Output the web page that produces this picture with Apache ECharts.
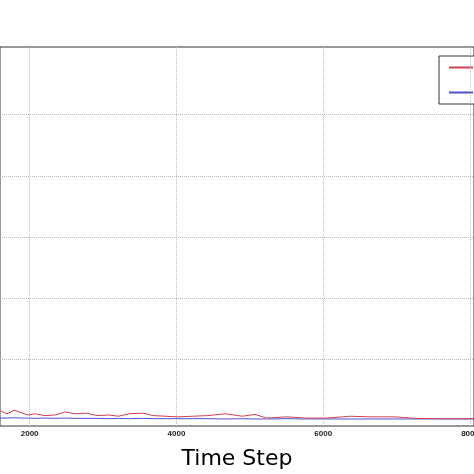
<!DOCTYPE html>
<html><head><meta charset="utf-8">
<script src="https://cdn.jsdelivr.net/npm/echarts@6/dist/echarts.min.js"></script>
<style>html,body{margin:0;padding:0;background:#fff}#c{width:474px;height:474px}</style>
</head><body><div id="c"></div>
<script>
const steps = [1600,1690,1790,1900,1980,2070,2210,2340,2490,2610,2780,2920,3080,3210,3350,3550,3680,4020,4220,4420,4670,4900,5070,5230,5500,5770,6040,6370,6640,6980,7250,7520,8060];
const redVals = [15,10,16,11,8,10,7,8,13,10,11,7,8,6,10,11,7,5,6,7,10,6,9,3,5,3,3,6,5,5,2.5,2,2];
const blueVals = [3,3,3.5,3,3,2.5,3,2.5,3,2.5,2.5,2.5,2,2.5,2,2.5,2,2,2,2,1.5,2,1.5,1.5,2,1.5,1.5,1.5,1.5,1.5,1.5,1.5,1.5];
const xTicks = [2000,4000,6000,8000];
const yGrid = [100,200,300,400,500];
const seriesNames = ['Train','Test'];
const pair = (v) => steps.map((s,i)=>[s,v[i]]);
const gl = {color:'#bbb',type:'dotted',width:1};
const chart = echarts.init(document.getElementById('c'));
chart.setOption({
  animation:false,
  grid:{left:0,right:0,top:47,bottom:48,show:true,borderColor:'#333',borderWidth:1,outerBoundsMode:'none',containLabel:false},
  legend:{orient:'vertical',left:439,top:56,itemWidth:24,itemHeight:2,itemGap:14,padding:[6,8,6,10],
    borderColor:'#333',borderWidth:1,backgroundColor:'#fff',textStyle:{fontSize:11,color:'#000'},icon:'rect',
    data:seriesNames},
  xAxis:{type:'value',min:1596,max:8054,
    axisLine:{show:false},
    axisLabel:{fontSize:8,color:'#222',customValues:xTicks,formatter:v=>String(v),margin:4,fontWeight:'bold'},
    axisTick:{show:false,customValues:xTicks},
    splitLine:{show:false},
    name:'Time Step',nameLocation:'middle',nameGap:22,nameTextStyle:{fontSize:22,color:'#000',fontFamily:'DejaVu Sans'}},
  yAxis:{type:'value',min:-10,max:611,
    axisLine:{show:false},axisTick:{show:false},axisLabel:{show:false},splitLine:{show:false}},
  series:[
    {name:seriesNames[0],type:'line',data:pair(redVals),symbol:'none',lineStyle:{color:'#d04050',width:1},itemStyle:{color:'#d04050'},z:3,
     markLine:{silent:true,symbol:'none',label:{show:false},lineStyle:gl,data:xTicks.map(t=>({xAxis:t}))}},
    {name:seriesNames[1],type:'line',data:pair(blueVals),symbol:'none',lineStyle:{color:'#5050d0',width:1},itemStyle:{color:'#5050d0'},z:2,
     markLine:{silent:true,symbol:'none',label:{show:false},lineStyle:gl,data:yGrid.map(v=>({yAxis:v}))}}
  ]
});
</script></body></html>
